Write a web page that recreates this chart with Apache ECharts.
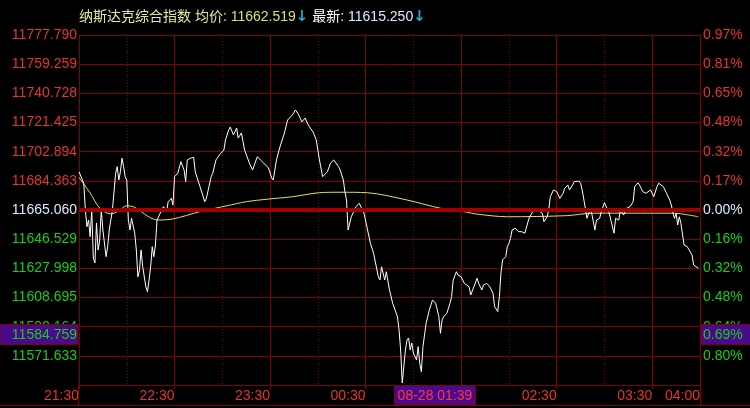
<!DOCTYPE html>
<html><head><meta charset="utf-8">
<script src="https://cdn.jsdelivr.net/npm/echarts@6/dist/echarts.min.js"></script>
<style>html,body{margin:0;padding:0;background:#000;}#c{width:750px;height:408px;}</style>
</head><body><div id="c"></div>
<script>
// ---- data ----
const indexName = '纳斯达克综合指数';
const avgText = '11662.519';
const lastText = '11615.250';
const basePrice = 11665.06;
const priceLow = 11552.33;
const priceHigh = 11777.79;
// minutes after 21:30
const timeTicks = [0, 60, 120, 180, 240, 300, 360, 390];
const timeLabels = ['21:30', '22:30', '23:30', '00:30', '01:30', '02:30', '03:30', '04:00'];
const leftLabels = ['11777.790','11759.259','11740.728','11721.425','11702.894','11684.363','11665.060','11646.529','11627.998','11608.695','11590.164','11571.633',''];
const rightLabels = ['0.97%','0.81%','0.65%','0.48%','0.32%','0.17%','0.00%','0.16%','0.32%','0.48%','0.64%','0.80%',''];
const cursorMinute = 249;
const cursorTimeText = '08-28 01:39';
const cursorPrice = 11584.759;
const cursorPriceText = '11584.759';
const cursorPctText = '0.69%';

const priceMinutes = [0,3,4,5,6,7,8,9,10,11,12,13,14,15,17,18,19,21,23,24,25,26,27,28,29,30,31,32,33,35,36,37,38,39,40,42,43,44,45,46,47,48,49,51,53,55,56,58,59,60,62,64,66,67,68,70,72,73,74,76,79,80,83,84,86,89,91,92,94,95,97,99,100,102,104,107,109,112,114,116,119,121,122,124,126,129,131,134,136,138,140,142,144,147,149,151,153,156,158,160,163,164,166,167,168,169,170,171,174,176,179,181,183,185,188,189,190,192,193,195,197,200,201,202,203,205,206,207,208,209,210,212,213,214,215,216,218,219,220,222,224,226,227,228,229,231,233,234,235,237,238,240,242,245,246,248,249,250,251,253,254,256,258,260,261,263,264,265,266,268,269,270,271,272,274,276,278,280,282,283,285,286,288,291,292,294,295,296,298,300,301,302,304,305,307,308,310,311,314,315,316,318,319,321,322,324,325,327,328,330,331,333,334,336,337,339,340,342,344,346,348,349,351,352,354,356,359,361,363,364,367,369,371,372,373,374,375,376,377,378,380,382,383,385,386,387,389];
const prices = [11689.7,11682.3,11665.1,11654.3,11658.6,11647.9,11665.1,11634.1,11630.9,11656.7,11639.3,11645.7,11665.1,11652.2,11635.0,11641.4,11652.2,11665.1,11688.7,11693.0,11684.4,11689.7,11698.4,11693.0,11686.5,11684.4,11658.6,11652.2,11659.7,11650.1,11639.3,11622.0,11626.4,11639.3,11628.5,11615.6,11612.4,11620.0,11628.5,11641.4,11635.0,11642.5,11658.6,11663.0,11667.2,11664.0,11670.4,11672.6,11668.3,11686.5,11688.7,11696.2,11690.8,11683.3,11697.3,11698.4,11699.0,11689.7,11688.7,11680.1,11670.4,11672.6,11686.5,11688.7,11697.3,11701.6,11703.7,11710.2,11716.6,11718.5,11713.4,11717.9,11711.4,11714.7,11703.7,11695.3,11690.8,11699.4,11697.3,11695.3,11692.1,11685.7,11684.4,11697.3,11705.0,11714.7,11723.0,11726.3,11729.5,11726.3,11721.8,11724.3,11719.8,11715.3,11710.2,11697.3,11686.5,11689.7,11695.3,11697.3,11693.0,11690.8,11684.4,11676.9,11671.5,11652.2,11651.1,11660.7,11667.2,11669.4,11663.0,11653.3,11643.6,11637.2,11622.0,11620.0,11628.5,11620.0,11625.3,11613.5,11605.0,11596.3,11587.8,11574.9,11553.6,11574.9,11581.3,11582.6,11574.9,11579.4,11572.9,11568.4,11577.0,11566.3,11560.9,11577.0,11592.1,11596.3,11600.6,11607.1,11605.0,11596.3,11585.6,11594.2,11596.3,11598.5,11605.0,11609.2,11620.0,11625.3,11623.2,11622.0,11617.8,11615.6,11610.3,11615.6,11615.25,11621.1,11617.8,11613.5,11616.7,11617.8,11615.6,11611.4,11602.8,11599.6,11609.2,11624.3,11632.9,11635.0,11641.4,11643.6,11646.8,11652.2,11653.3,11651.1,11651.1,11650.1,11657.5,11660.7,11664.0,11662.9,11665.1,11662.9,11657.5,11660.7,11665.1,11673.6,11678.0,11676.9,11675.8,11672.6,11675.8,11679.0,11681.2,11678.0,11681.2,11683.3,11683.7,11682.3,11678.0,11666.2,11659.7,11665.1,11662.9,11652.2,11658.6,11659.7,11664.0,11669.8,11669.4,11662.9,11658.6,11650.1,11659.7,11658.6,11665.1,11661.8,11666.2,11667.2,11670.4,11680.1,11682.6,11681.2,11676.9,11675.8,11678.0,11673.6,11680.1,11682.3,11680.1,11675.8,11671.5,11668.3,11663.0,11659.7,11663.0,11655.4,11660.7,11656.5,11642.5,11641.4,11641.4,11636.1,11629.6,11628.5,11627.5];
const avgMinutes = [0,7,13,20,25,30,35,43,49,59,76,93,105,118,134,151,164,181,206,227,244,249,269,306,323,357,373,389];
const avgPrices = [11686.0,11676.0,11666.3,11662.5,11664.6,11667.8,11666.8,11661.2,11658.6,11659.3,11664.0,11667.8,11670.4,11672.0,11673.6,11676.2,11676.5,11676.2,11671.5,11666.2,11663.6,11662.519,11660.7,11661.4,11663.0,11663.0,11663.0,11660.7];

// ---- styles ----
const RED = '#e83232', GREEN = '#12d212', MID = '#d8ecff';
const GRID = '#820000';
const PURPLE = '#4b0a8c';
const FONT = '"Liberation Sans", Arial, "Noto Sans CJK SC", sans-serif';
const ARROWFONT = '"DejaVu Sans", sans-serif';
const levelColor = v => v > 6 ? RED : (v == 6 ? MID : GREEN);

const chart = echarts.init(document.getElementById('c'), null, {renderer: 'canvas'});
const option = {
  backgroundColor: '#000',
  animation: false,
  title: {
    left: 74, top: 5,
    text: '{n|' + indexName + ' 均价: }{a|' + avgText + '}{d|↓}{w| 最新: }{p|' + lastText + '}{d|↓}',
    textStyle: {
      fontFamily: FONT, fontSize: 14, fontWeight: 'normal',
      rich: {
        n: {color: '#e6e6a0', fontSize: 14, fontFamily: FONT},
        a: {color: '#d6e06a', fontSize: 14, fontFamily: FONT},
        d: {color: '#22aac0', fontSize: 15, fontWeight: 'bold', fontFamily: ARROWFONT},
        w: {color: '#ffffff', fontSize: 14, fontFamily: FONT},
        p: {color: '#d6eeff', fontSize: 14, fontFamily: FONT}
      }
    }
  },
  grid: {left: 79, right: 50, top: 35, bottom: 23, containLabel: false},
  xAxis: [
    {
      type: 'value', min: 0, max: 390, interval: 60,
      axisLine: {show: true, lineStyle: {color: GRID, width: 1}},
      axisTick: {show: true, length: 4, lineStyle: {color: GRID}},
      axisLabel: {
        show: true, showMaxLabel: true, showMinLabel: true,
        formatter: v => { const i = timeTicks.indexOf(v); return i >= 0 ? timeLabels[i] : ''; },
        align: 'right', color: RED, fontSize: 14, fontFamily: FONT, margin: 4
      },
      splitLine: {show: true, lineStyle: {color: GRID, width: 1}}
    },
    {
      type: 'value', min: 0, max: 390, interval: 30, position: 'bottom',
      axisLine: {show: false}, axisTick: {show: false}, axisLabel: {show: false},
      splitLine: {show: true, lineStyle: {color: GRID, width: 1, type: [1, 2]}}
    }
  ],
  yAxis: [
    {type: 'value', min: priceLow, max: priceHigh, show: false},
    {
      type: 'value', min: 0, max: 12, interval: 1, position: 'left',
      axisLine: {show: true, lineStyle: {color: GRID}},
      axisTick: {show: false},
      axisLabel: {
        formatter: v => leftLabels[12 - v], color: v => levelColor(v),
        fontSize: 14, fontFamily: FONT, margin: 2
      },
      splitLine: {show: true, lineStyle: {color: GRID, width: 1}}
    },
    {
      type: 'value', min: 0, max: 12, interval: 1, position: 'right',
      axisLine: {show: true, lineStyle: {color: GRID}},
      axisTick: {show: false},
      axisLabel: {
        formatter: v => rightLabels[12 - v], color: v => levelColor(v),
        fontSize: 14, fontFamily: FONT, margin: 3
      },
      splitLine: {show: false}
    }
  ],
  series: [
    {
      type: 'line', xAxisIndex: 0, yAxisIndex: 0, data: [], z: 1, silent: true,
      markLine: {
        silent: true, symbol: ['none', 'none'], label: {show: false},
        lineStyle: {color: '#a00000', width: 4, type: 'solid'},
        data: [{yAxis: basePrice}]
      }
    },
    {
      name: 'avg', type: 'line', xAxisIndex: 0, yAxisIndex: 0, z: 3,
      data: avgMinutes.map((m, i) => [m, avgPrices[i]]),
      showSymbol: false, symbol: 'none', smooth: 0.3,
      lineStyle: {color: '#e2e25a', width: 1}
    },
    {
      name: 'price', type: 'line', xAxisIndex: 0, yAxisIndex: 0, z: 4,
      data: priceMinutes.map((m, i) => [m, prices[i]]),
      showSymbol: false, symbol: 'none',
      lineStyle: {color: '#ffffff', width: 1}
    }
  ]
};
chart.setOption(option);

const gr = chart.getModel().getComponent('grid').coordinateSystem.getRect();
const yCur = chart.convertToPixel({yAxisIndex: 0}, cursorPrice);
const xCur = chart.convertToPixel({xAxisIndex: 0}, cursorMinute);
const axisBottom = gr.y + gr.height;
const frameBottom = 405.5;
chart.setOption({
  graphic: [
    {type: 'line', z: 50, shape: {x1: gr.x - 0.5, y1: axisBottom, x2: gr.x - 0.5, y2: frameBottom}, style: {stroke: GRID, lineWidth: 1}},
    {type: 'line', z: 50, shape: {x1: gr.x + gr.width + 0.5, y1: axisBottom, x2: gr.x + gr.width + 0.5, y2: frameBottom}, style: {stroke: GRID, lineWidth: 1}},
    {type: 'line', z: 50, shape: {x1: 0, y1: frameBottom, x2: 750, y2: frameBottom}, style: {stroke: GRID, lineWidth: 1}},
    {type: 'rect', z: 60, shape: {x: 0, y: Math.round(yCur) - 10.5, width: gr.x - 1, height: 20}, style: {fill: PURPLE, stroke: GRID, lineWidth: 1}},
    {type: 'text', z: 61, x: gr.x - 2, y: yCur, style: {text: cursorPriceText, fill: GREEN, font: '14px ' + FONT, align: 'right', verticalAlign: 'middle'}},
    {type: 'rect', z: 60, shape: {x: gr.x + gr.width + 1, y: Math.round(yCur) - 10.5, width: 750 - gr.x - gr.width, height: 20}, style: {fill: PURPLE, stroke: GRID, lineWidth: 1}},
    {type: 'text', z: 61, x: gr.x + gr.width + 3, y: yCur, style: {text: cursorPctText, fill: GREEN, font: '14px ' + FONT, align: 'left', verticalAlign: 'middle'}},
    {type: 'rect', z: 60, shape: {x: xCur - 81, y: axisBottom + 0.5, width: 81, height: frameBottom - axisBottom - 1}, style: {fill: PURPLE, stroke: GRID, lineWidth: 1}},
    {type: 'text', z: 61, x: xCur - 40.5, y: (axisBottom + frameBottom) / 2 + 1, style: {text: cursorTimeText, fill: '#ff3a3a', font: '14px ' + FONT, align: 'center', verticalAlign: 'middle'}}
  ]
});
</script>
</body></html>
